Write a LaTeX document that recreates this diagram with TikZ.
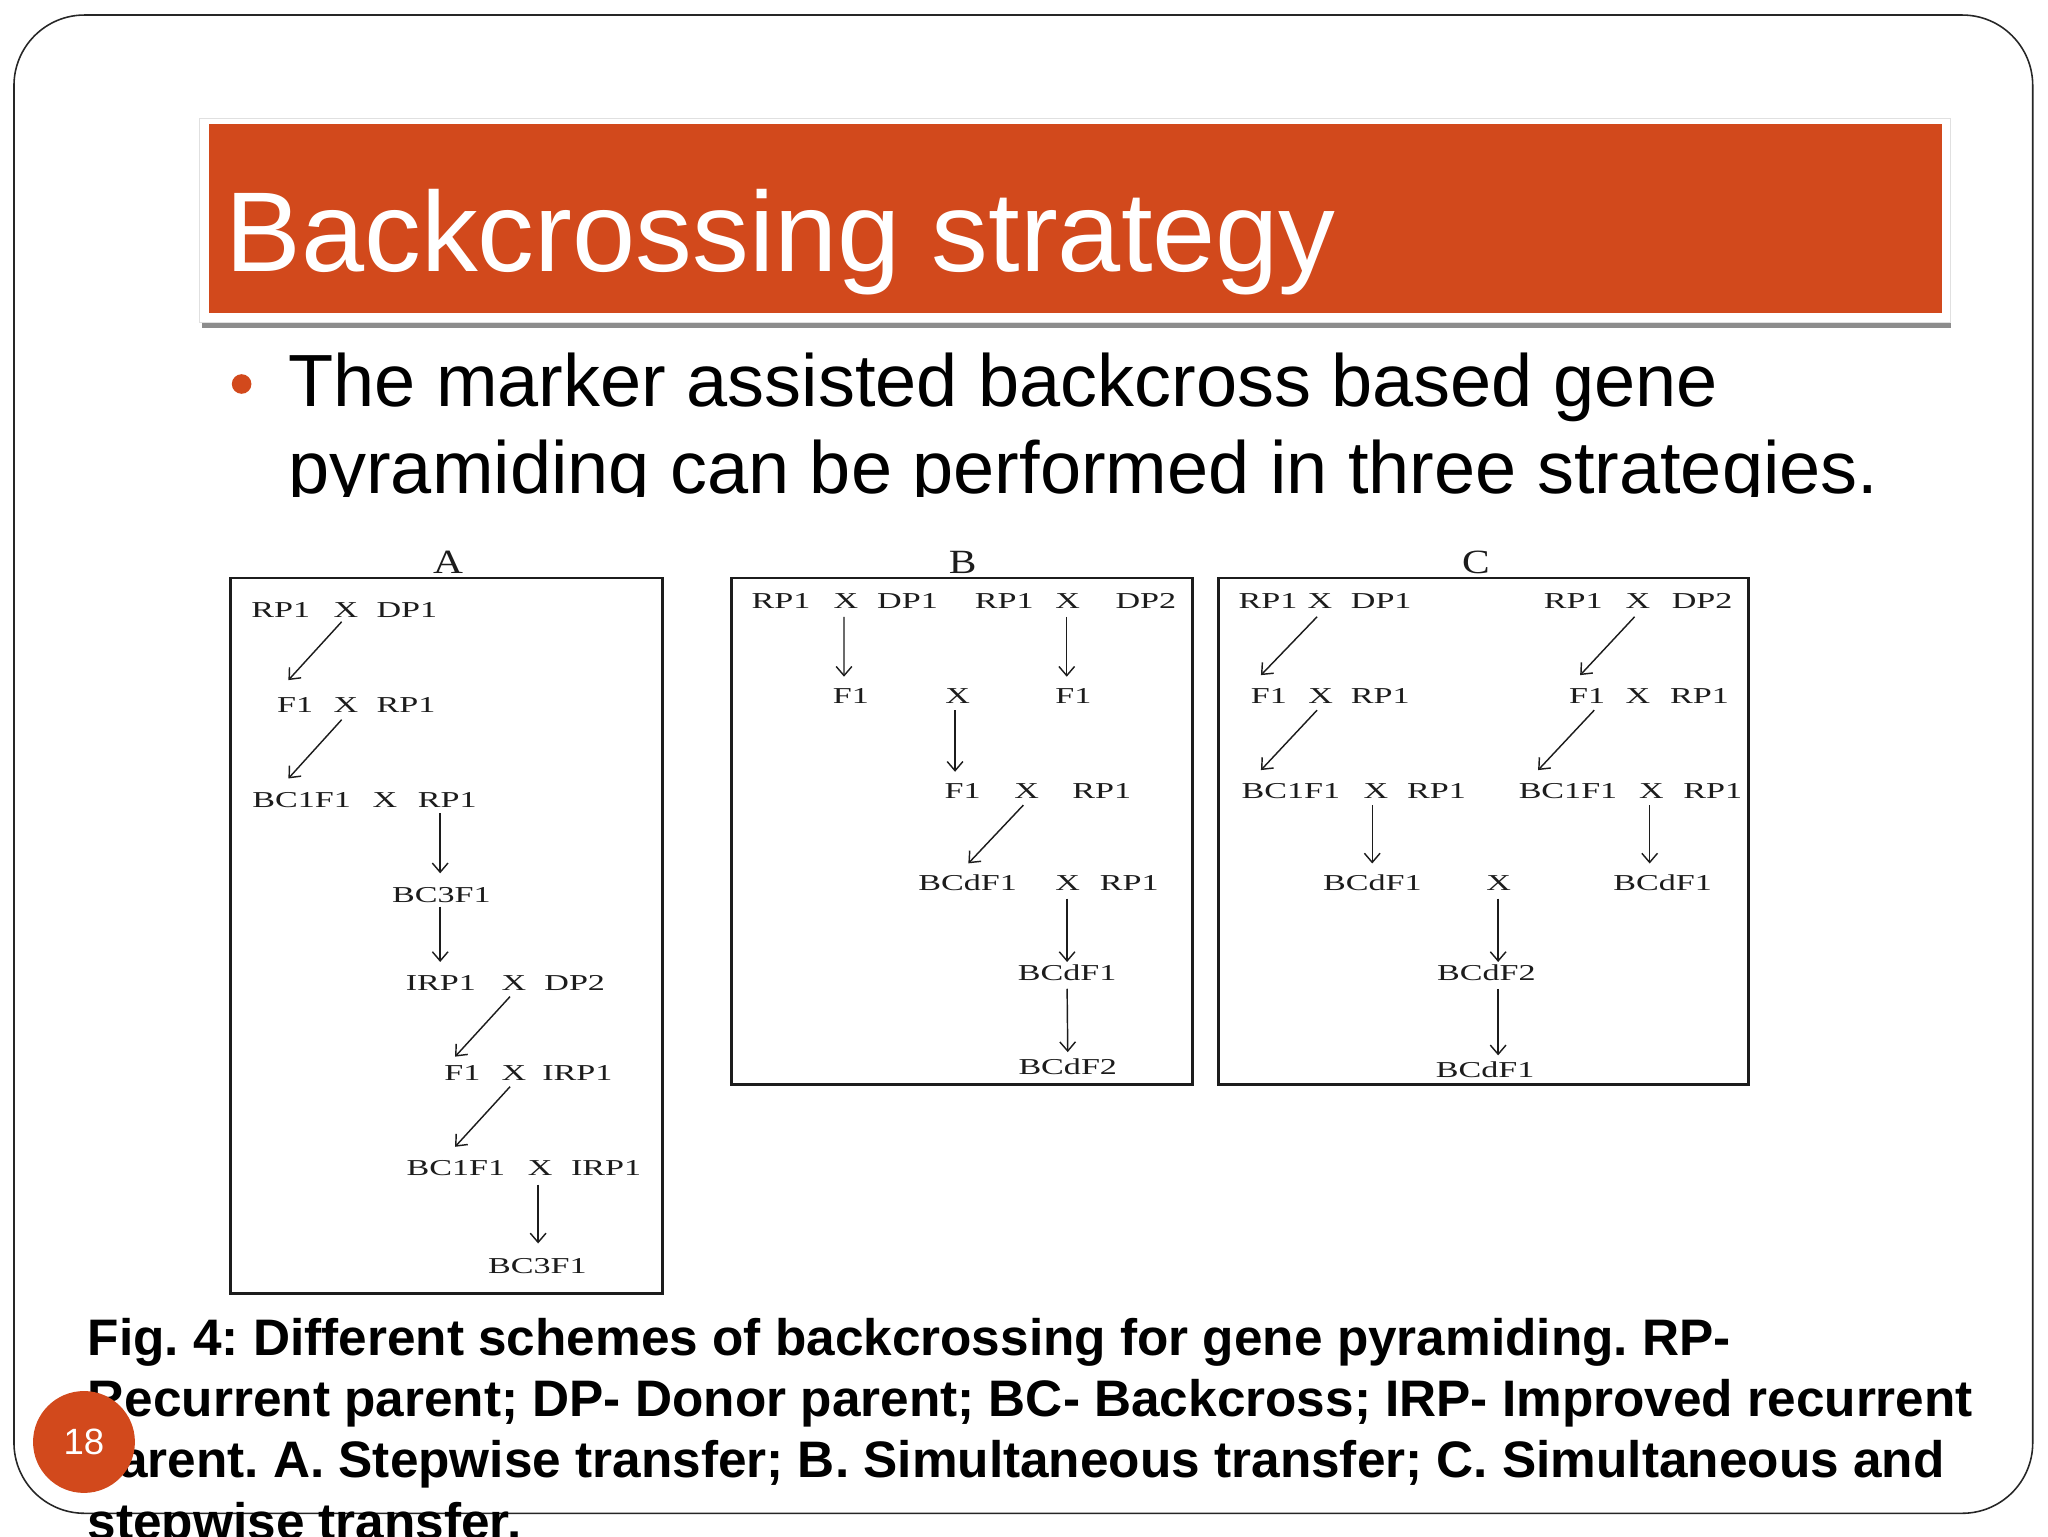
\documentclass[tikz,border=0pt]{standalone}
\usepackage{graphicx}
\usepackage{fontspec}
\setmainfont{Liberation Sans}
\newfontfamily\serifpanel{Liberation Serif}
\usetikzlibrary{arrows.meta,calc}
\definecolor{slideorange}{RGB}{210,73,28}
\definecolor{ink}{RGB}{28,28,28}
\newcommand\gx[1]{\scalebox{1.5}[1]{#1}}
\newcommand\lx[1]{\scalebox{1.22}[1]{#1}}
\frenchspacing
\begin{document}
\begin{tikzpicture}[x=1pt,y=-1pt,
  gt/.style={font=\serifpanel\fontsize{17.4}{20}\selectfont, text=ink, inner sep=0pt, anchor=base},
  plabel/.style={font=\serifpanel\fontsize{26}{28}\selectfont, text=ink, inner sep=0pt, anchor=base},
  arr/.style={draw=ink, line width=1.1pt, -{Straight Barb[length=7pt,width=12pt,line width=1.1pt]}},
  panel/.style={draw=ink, line width=2.2pt},
  caption/.style={font=\bfseries\fontsize{39.3}{47}\selectfont, inner sep=0pt, anchor=base west, text=black},
  bullettext/.style={font=\fontsize{56.6}{68}\selectfont, inner sep=0pt, anchor=base west, text=black}
]
\useasboundingbox (0,0) rectangle (1568,1176);
\fill[white] (0,0) rectangle (1568,1176);

% slide frame
\draw[line width=1.2pt, draw=black!85, rounded corners=54pt] (10.7,11.5) rectangle (1556.3,1158.6);

% title bar
\fill[black!45] (155,97) rectangle (1494,251.5);
\fill[white, draw=black!12, line width=0.6pt] (153,90.5) rectangle (1493.6,246.5);
\fill[slideorange] (160,95) rectangle (1487,240);
\node[font=\fontsize{86.9}{96}\selectfont, text=white, inner sep=0pt, anchor=base west] (title) at (172.5,208) {Backcrossing strategy};

% bullet
\fill[slideorange] (185,294) circle (7.5);
\node[bullettext] (b1) at (220.5,311) {The marker assisted backcross based gene};
\begin{scope}
\clip (0,320) rectangle (1568,380);
\node[bullettext] (b2) at (220.5,378) {pyramiding can be performed in three strategies.};
\end{scope}

% ---------- Panel A ----------
\node[plabel] (labA) at (343,439) {\lx{A}};
\draw[panel] (176.5,442.5) rectangle (507.5,990);
\node[gt] (A1a) at (215,472.5) {\gx{RP1}};
\node[gt] (A1x) at (264.8,472.5) {\gx{X}};
\node[gt] (A1b) at (311.5,472.5) {\gx{DP1}};
\node[gt] (A2a) at (226,545.2) {\gx{F1}};
\node[gt] (A2x) at (264.8,545.2) {\gx{X}};
\node[gt] (A2b) at (310.8,545.2) {\gx{RP1}};
\node[gt] (A3a) at (231,618) {\gx{BC1F1}};
\node[gt] (A3x) at (294.8,618) {\gx{X}};
\node[gt] (A3b) at (342.5,618) {\gx{RP1}};
\node[gt] (A4) at (338,690.6) {\gx{BC3F1}};
\node[gt] (A5a) at (337.5,758) {\gx{IRP1}};
\node[gt] (A5x) at (393.5,758) {\gx{X}};
\node[gt] (A5b) at (440,758) {\gx{DP2}};
\node[gt] (A6a) at (354,827) {\gx{F1}};
\node[gt] (A6x) at (393.5,827) {\gx{X}};
\node[gt] (A6b) at (442,827) {\gx{IRP1}};
\node[gt] (A7a) at (349,899.7) {\gx{BC1F1}};
\node[gt] (A7x) at (413.5,899.7) {\gx{X}};
\node[gt] (A7b) at (464,899.7) {\gx{IRP1}};
\node[gt] (A8) at (411.5,974.7) {\gx{BC3F1}};
\draw[arr] ($(A1x.base)+(-3.2,3.5)$) -- ($(A2a.base)+(-5.2,-24.5)$);
\draw[arr] ($(A2x.base)+(-3.2,5.8)$) -- ($(A3a.base)+(-10.2,-22)$);
\draw[arr] ($(A3b.base)+(-5.5,4.6)$) -- ($(A4.base)+(-1,-22)$);
\draw[arr] ($(A4.base)+(-1,3.5)$) -- ($(A5a.base)+(-0.5,-21.5)$);
\draw[arr] ($(A5x.base)+(-3,5)$) -- ($(A6a.base)+(-5.6,-18)$);
\draw[arr] ($(A6x.base)+(-3,5)$) -- ($(A7a.base)+(-0.6,-21.7)$);
\draw[arr] ($(A7x.base)+(-1.5,7.3)$) -- ($(A8.base)+(0.5,-22.7)$);

% ---------- Panel B ----------
\node[plabel] (labB) at (737,439) {\lx{B}};
\draw[panel] (560,442.5) rectangle (913,830);
\node[gt] (B1a) at (597.9,466) {\gx{RP1}};
\node[gt] (B1x) at (647.6,466) {\gx{X}};
\node[gt] (B1b) at (694.8,466) {\gx{DP1}};
\node[gt] (B1c) at (768.9,466) {\gx{RP1}};
\node[gt] (B1y) at (817.4,466) {\gx{X}};
\node[gt] (B1d) at (877.3,466) {\gx{DP2}};
\node[gt] (B2a) at (651.5,538.5) {\gx{F1}};
\node[gt] (B2x) at (733.2,538.5) {\gx{X}};
\node[gt] (B2b) at (821.8,538.5) {\gx{F1}};
\node[gt] (B3a) at (737,611.3) {\gx{F1}};
\node[gt] (B3x) at (786.1,611.3) {\gx{X}};
\node[gt] (B3b) at (843.5,611.3) {\gx{RP1}};
\node[gt] (B4a) at (740.8,682) {\gx{BCdF1}};
\node[gt] (B4x) at (817.4,682) {\gx{X}};
\node[gt] (B4b) at (864.6,682) {\gx{RP1}};
\node[gt] (B5) at (817,750.5) {\gx{BCdF1}};
\node[gt] (B6) at (817.5,822.5) {\gx{BCdF2}};
\draw[arr] ($(B1x.base)+(-1.4,6.2)$) -- ($(B2a.base)+(-5.3,-20.4)$);
\draw[arr] ($(B1y.base)+(-0.7,6.2)$) -- ($(B2b.base)+(-5.1,-20.4)$);
\draw[arr] ($(B2x.base)+(-2,5.1)$) -- ($(B3a.base)+(-5.8,-20.4)$);
\draw[arr] ($(B3x.base)+(-2.6,5.1)$) -- ($(B4a.base)+(0.6,-21)$);
\draw[arr] ($(B4x.base)+(-0.4,6)$) -- ($(B5.base)+(0,-14)$);
\draw[arr] ($(B5.base)+(0,6.5)$) -- ($(B6.base)+(0,-17)$);

% ---------- Panel C ----------
\node[plabel] (labC) at (1130,439) {\lx{C}};
\draw[panel] (933,442.5) rectangle (1338.5,830);
\node[gt] (C1a) at (970.8,466) {\gx{RP1}};
\node[gt] (C1x) at (1010.5,466) {\gx{X}};
\node[gt] (C1b) at (1057.5,466) {\gx{DP1}};
\node[gt] (C1c) at (1204.5,466) {\gx{RP1}};
\node[gt] (C1y) at (1254.1,466) {\gx{X}};
\node[gt] (C1d) at (1303.2,466) {\gx{DP2}};
\node[gt] (C2a) at (971.5,538.5) {\gx{F1}};
\node[gt] (C2x) at (1011.1,538.5) {\gx{X}};
\node[gt] (C2b) at (1056.8,538.5) {\gx{RP1}};
\node[gt] (C2c) at (1215.2,538.5) {\gx{F1}};
\node[gt] (C2y) at (1254.1,538.5) {\gx{X}};
\node[gt] (C2d) at (1301.2,538.5) {\gx{RP1}};
\node[gt] (C3a) at (988.3,611.3) {\gx{BC1F1}};
\node[gt] (C3x) at (1053.4,611.3) {\gx{X}};
\node[gt] (C3b) at (1099.8,611.3) {\gx{RP1}};
\node[gt] (C3c) at (1200.5,611.3) {\gx{BC1F1}};
\node[gt] (C3y) at (1264.3,611.3) {\gx{X}};
\node[gt] (C3d) at (1311.3,611.3) {\gx{RP1}};
\node[gt] (C4a) at (1050.7,682) {\gx{BCdF1}};
\node[gt] (C4x) at (1147.4,682) {\gx{X}};
\node[gt] (C4b) at (1273,682) {\gx{BCdF1}};
\node[gt] (C5) at (1138,750.5) {\gx{BCdF2}};
\node[gt] (C6) at (1137,825) {\gx{BCdF1}};
\draw[arr] ($(C1x.base)+(-2.1,6.2)$) -- ($(C2a.base)+(-6.1,-21.6)$);
\draw[arr] ($(C1y.base)+(-2.6,6.2)$) -- ($(C2c.base)+(-5.4,-21.6)$);
\draw[arr] ($(C2x.base)+(-2.7,5.2)$) -- ($(C3a.base)+(-22.9,-21.7)$);
\draw[arr] ($(C2c.base)+(5.4,5.2)$) -- ($(C3c.base)+(-22.9,-21.7)$);
\draw[arr] ($(C3x.base)+(-2.8,5.1)$) -- ($(C4a.base)+(-0.1,-20.9)$);
\draw[arr] ($(C3y.base)+(-1.3,5.1)$) -- ($(C4b.base)+(-10,-20.9)$);
\draw[arr] ($(C4x.base)+(-0.4,6)$) -- ($(C5.base)+(9,-14)$);
\draw[arr] ($(C5.base)+(9,6.5)$) -- ($(C6.base)+(10,-17)$);

% ---------- caption ----------
\node[caption] (cap1) at (67,1037.5) {Fig. 4: Different schemes of backcrossing for gene pyramiding. RP-};
\node[caption] (cap2) at (67,1084.5) {Recurrent parent; DP- Donor parent; BC- Backcross; IRP- Improved recurrent};
\node[caption] (cap3) at (67,1131.5) {parent. A. Stepwise transfer; B. Simultaneous transfer; C. Simultaneous and};
\node[caption] (cap4) at (67,1178.5) {stepwise transfer.};

% slide number
\node[circle, fill=slideorange, minimum size=78pt, inner sep=0pt, text=white, font=\fontsize{28}{30}\selectfont] (num) at (64.3,1104) {18};
\end{tikzpicture}
\end{document}
